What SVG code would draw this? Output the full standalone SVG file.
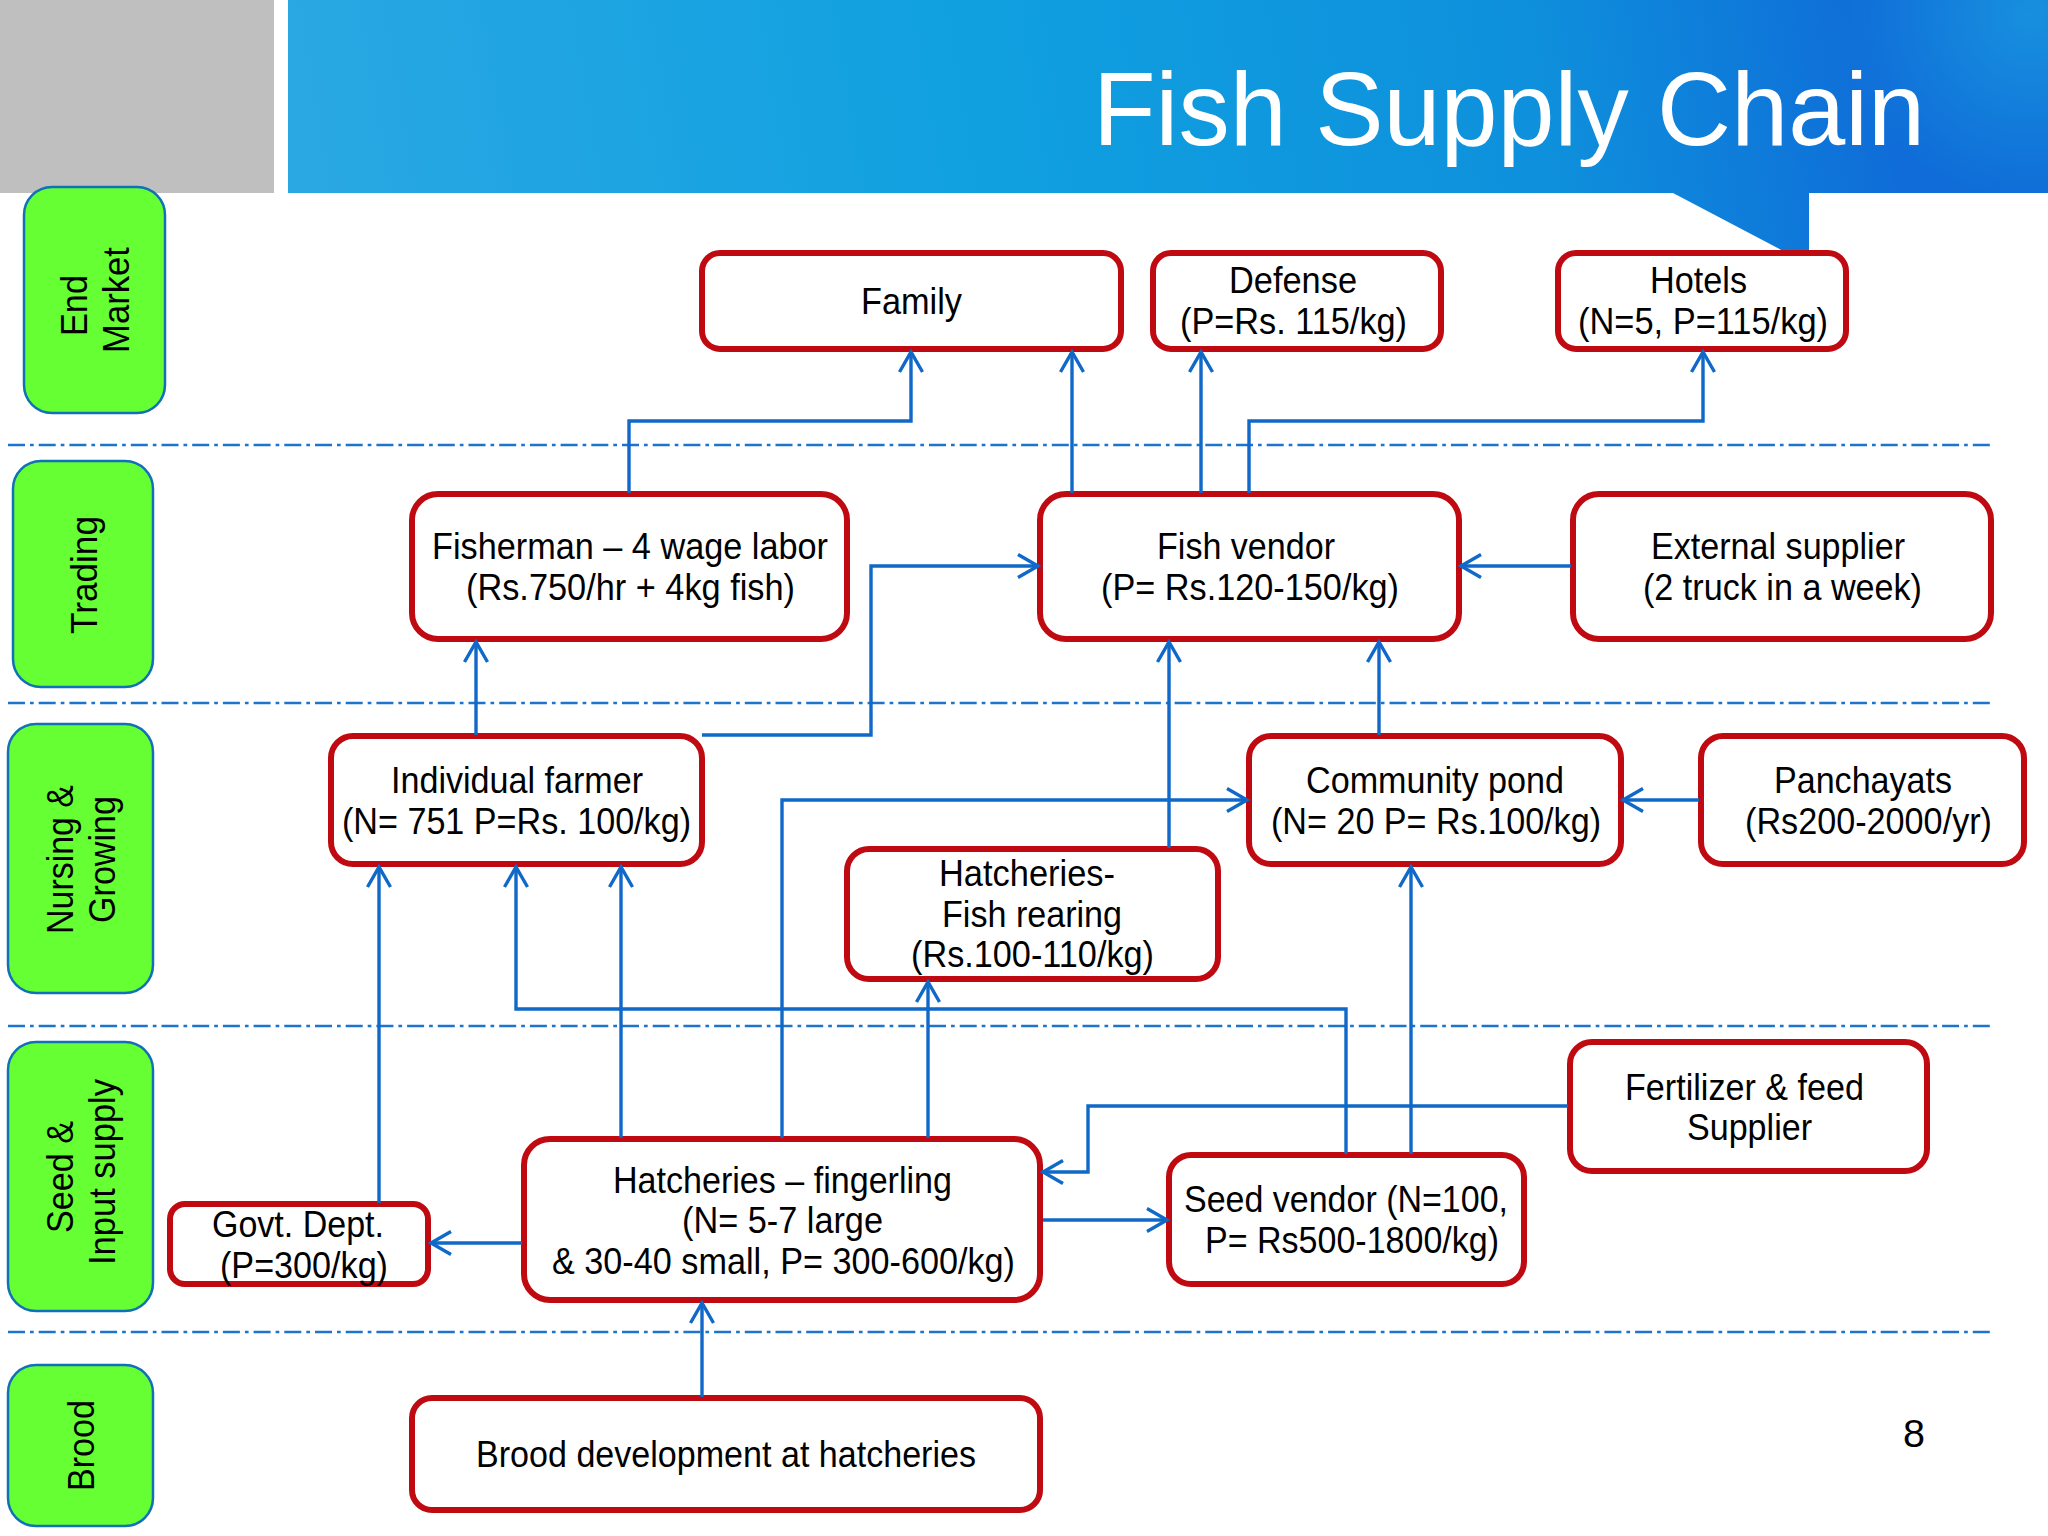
<svg xmlns="http://www.w3.org/2000/svg" width="2048" height="1536" viewBox="0 0 2048 1536">
<style>
text{font-family:"Liberation Sans",Arial,sans-serif;font-size:36px;fill:#000}
.box{fill:#fff;stroke:#bf0a12;stroke-width:6}
.lane{fill:#66ff33;stroke:#1070b8;stroke-width:2.5}
.sep{fill:none;stroke:#1c74cc;stroke-width:2.5;stroke-dasharray:17 5 3.7 5}
.c{fill:none;stroke:#1068c8;stroke-width:3.4;marker-end:url(#a)}
</style>
<defs>
<linearGradient id="g" gradientUnits="userSpaceOnUse" x1="288" y1="193" x2="2000" y2="-100">
<stop offset="0" stop-color="#2aa8e3"/><stop offset="0.4" stop-color="#10a0e0"/><stop offset="0.72" stop-color="#0e90dc"/><stop offset="0.92" stop-color="#0f6cd8"/><stop offset="1" stop-color="#0f6cd8"/>
</linearGradient>
<radialGradient id="h" gradientUnits="userSpaceOnUse" cx="2030" cy="15" r="190">
<stop offset="0" stop-color="#1a9ce0" stop-opacity="0.75"/><stop offset="1" stop-color="#1a9ce0" stop-opacity="0"/>
</radialGradient>
<marker id="a" markerUnits="userSpaceOnUse" markerWidth="28" markerHeight="30" refX="23" refY="15" orient="auto">
<path d="M2 3.5 L22 15 L2 26.5" fill="none" stroke="#1068c8" stroke-width="3.4"/>
</marker>
</defs>
<rect width="2048" height="1536" fill="#fff"/>
<g id="header">
<rect x="0" y="0" width="274" height="193" fill="#bfbfbf"/>
<path d="M288 0H2048V193H1809V252H1785L1673 193H288Z" fill="url(#g)"/>
<rect x="1840" y="0" width="208" height="193" fill="url(#h)"/>
<text x="1093" y="145" textLength="832" lengthAdjust="spacingAndGlyphs" style="font-size:103px;fill:#fff">Fish Supply Chain</text>
</g>
<g id="separators">
<path class="sep" d="M8 445H1991M8 703H1991M8 1026H1991M8 1332H1991"/>
</g>
<g id="lanes">
<g id="lane-end-market"><rect class="lane" x="24" y="187" width="141" height="226" rx="28"/>
<text transform="translate(87 336) rotate(-90)" textLength="61" lengthAdjust="spacingAndGlyphs">End</text>
<text transform="translate(129 353) rotate(-90)" textLength="106" lengthAdjust="spacingAndGlyphs">Market</text></g>
<g id="lane-trading"><rect class="lane" x="13" y="461" width="140" height="226" rx="28"/>
<text transform="translate(97 634) rotate(-90)" textLength="118" lengthAdjust="spacingAndGlyphs">Trading</text></g>
<g id="lane-nursing"><rect class="lane" x="8" y="724" width="145" height="269" rx="28"/>
<text transform="translate(73 934) rotate(-90)" textLength="149" lengthAdjust="spacingAndGlyphs">Nursing &amp;</text>
<text transform="translate(115 923) rotate(-90)" textLength="127" lengthAdjust="spacingAndGlyphs">Growing</text></g>
<g id="lane-seed"><rect class="lane" x="8" y="1042" width="145" height="269" rx="28"/>
<text transform="translate(73 1233) rotate(-90)" textLength="112" lengthAdjust="spacingAndGlyphs">Seed &amp;</text>
<text transform="translate(115 1265) rotate(-90)" textLength="186" lengthAdjust="spacingAndGlyphs">Input supply</text></g>
<g id="lane-brood"><rect class="lane" x="8" y="1365" width="145" height="161" rx="28"/>
<text transform="translate(94 1491) rotate(-90)" textLength="91" lengthAdjust="spacingAndGlyphs">Brood</text></g>
</g>
<g id="nodes">
<g id="family"><rect class="box" x="702" y="253" width="419" height="96" rx="18"/>
<text x="861" y="314" textLength="101" lengthAdjust="spacingAndGlyphs">Family</text></g>
<g id="defense"><rect class="box" x="1153" y="253" width="288" height="96" rx="18"/>
<text x="1229" y="293" textLength="128" lengthAdjust="spacingAndGlyphs">Defense</text>
<text x="1180" y="334" textLength="227" lengthAdjust="spacingAndGlyphs">(P=Rs. 115/kg)</text></g>
<g id="hotels"><rect class="box" x="1558" y="253" width="288" height="96" rx="18"/>
<text x="1650" y="293" textLength="97" lengthAdjust="spacingAndGlyphs">Hotels</text>
<text x="1578" y="334" textLength="250" lengthAdjust="spacingAndGlyphs">(N=5, P=115/kg)</text></g>
<g id="fisherman"><rect class="box" x="412" y="494" width="435" height="145" rx="26"/>
<text x="432" y="559" textLength="396" lengthAdjust="spacingAndGlyphs">Fisherman – 4 wage labor</text>
<text x="466" y="600" textLength="329" lengthAdjust="spacingAndGlyphs">(Rs.750/hr + 4kg fish)</text></g>
<g id="fish-vendor"><rect class="box" x="1040" y="494" width="419" height="145" rx="26"/>
<text x="1157" y="559" textLength="178" lengthAdjust="spacingAndGlyphs">Fish vendor</text>
<text x="1101" y="600" textLength="298" lengthAdjust="spacingAndGlyphs">(P= Rs.120-150/kg)</text></g>
<g id="external-supplier"><rect class="box" x="1573" y="494" width="418" height="145" rx="26"/>
<text x="1651" y="559" textLength="254" lengthAdjust="spacingAndGlyphs">External supplier</text>
<text x="1643" y="600" textLength="279" lengthAdjust="spacingAndGlyphs">(2 truck in a week)</text></g>
<g id="individual-farmer"><rect class="box" x="331" y="736" width="371" height="128" rx="22"/>
<text x="391" y="793" textLength="252" lengthAdjust="spacingAndGlyphs">Individual farmer</text>
<text x="342" y="834" textLength="349" lengthAdjust="spacingAndGlyphs">(N= 751 P=Rs. 100/kg)</text></g>
<g id="community-pond"><rect class="box" x="1249" y="736" width="372" height="128" rx="22"/>
<text x="1306" y="793" textLength="258" lengthAdjust="spacingAndGlyphs">Community pond</text>
<text x="1271" y="834" textLength="330" lengthAdjust="spacingAndGlyphs">(N= 20 P= Rs.100/kg)</text></g>
<g id="panchayats"><rect class="box" x="1701" y="736" width="323" height="128" rx="22"/>
<text x="1774" y="793" textLength="178" lengthAdjust="spacingAndGlyphs">Panchayats</text>
<text x="1745" y="834" textLength="247" lengthAdjust="spacingAndGlyphs">(Rs200-2000/yr)</text></g>
<g id="hatcheries-rearing"><rect class="box" x="847" y="849" width="371" height="130" rx="22"/>
<text x="939" y="886" textLength="176" lengthAdjust="spacingAndGlyphs">Hatcheries-</text>
<text x="942" y="927" textLength="180" lengthAdjust="spacingAndGlyphs">Fish rearing</text>
<text x="911" y="967" textLength="243" lengthAdjust="spacingAndGlyphs">(Rs.100-110/kg)</text></g>
<g id="fertilizer"><rect class="box" x="1570" y="1042" width="357" height="129" rx="22"/>
<text x="1625" y="1100" textLength="239" lengthAdjust="spacingAndGlyphs">Fertilizer &amp; feed</text>
<text x="1687" y="1140" textLength="125" lengthAdjust="spacingAndGlyphs">Supplier</text></g>
<g id="hatcheries-fingerling"><rect class="box" x="524" y="1139" width="516" height="161" rx="26"/>
<text x="613" y="1193" textLength="339" lengthAdjust="spacingAndGlyphs">Hatcheries – fingerling</text>
<text x="682" y="1233" textLength="201" lengthAdjust="spacingAndGlyphs">(N= 5-7 large</text>
<text x="552" y="1274" textLength="463" lengthAdjust="spacingAndGlyphs">&amp; 30-40 small, P= 300-600/kg)</text></g>
<g id="seed-vendor"><rect class="box" x="1169" y="1155" width="355" height="129" rx="22"/>
<text x="1184" y="1212" textLength="324" lengthAdjust="spacingAndGlyphs">Seed vendor (N=100,</text>
<text x="1205" y="1253" textLength="294" lengthAdjust="spacingAndGlyphs">P= Rs500-1800/kg)</text></g>
<g id="govt-dept"><rect class="box" x="170" y="1204" width="258" height="80" rx="15"/>
<text x="212" y="1237" textLength="172" lengthAdjust="spacingAndGlyphs">Govt. Dept.</text>
<text x="220" y="1278" textLength="168" lengthAdjust="spacingAndGlyphs">(P=300/kg)</text></g>
<g id="brood-development"><rect class="box" x="412" y="1398" width="628" height="112" rx="20"/>
<text x="476" y="1467" textLength="500" lengthAdjust="spacingAndGlyphs">Brood development at hatcheries</text></g>
</g>
<g id="connectors">
<path class="c" d="M629 493V421H911V351"/>
<path class="c" d="M1072 493V351"/>
<path class="c" d="M1201 493V351"/>
<path class="c" d="M1249 493V421H1703V351"/>
<path class="c" d="M1571 566H1460"/>
<path class="c" d="M476 735V641"/>
<path class="c" d="M702 735H871V566H1039"/>
<path class="c" d="M1169 848V641"/>
<path class="c" d="M1379 735V641"/>
<path class="c" d="M1699 800H1622"/>
<path class="c" d="M782 1138V800H1248"/>
<path class="c" d="M621 1138V866"/>
<path class="c" d="M1346 1154V1009H516V866"/>
<path class="c" d="M928 1138V981"/>
<path class="c" d="M1411 1154V866"/>
<path class="c" d="M379 1203V866"/>
<path class="c" d="M1568 1106H1088V1172H1042"/>
<path class="c" d="M1043 1220H1168"/>
<path class="c" d="M522 1243H430"/>
<path class="c" d="M702 1397V1302"/>
</g>
<text id="page-number" x="1903" y="1447" textLength="22" lengthAdjust="spacingAndGlyphs" style="font-size:39px">8</text>
</svg>
